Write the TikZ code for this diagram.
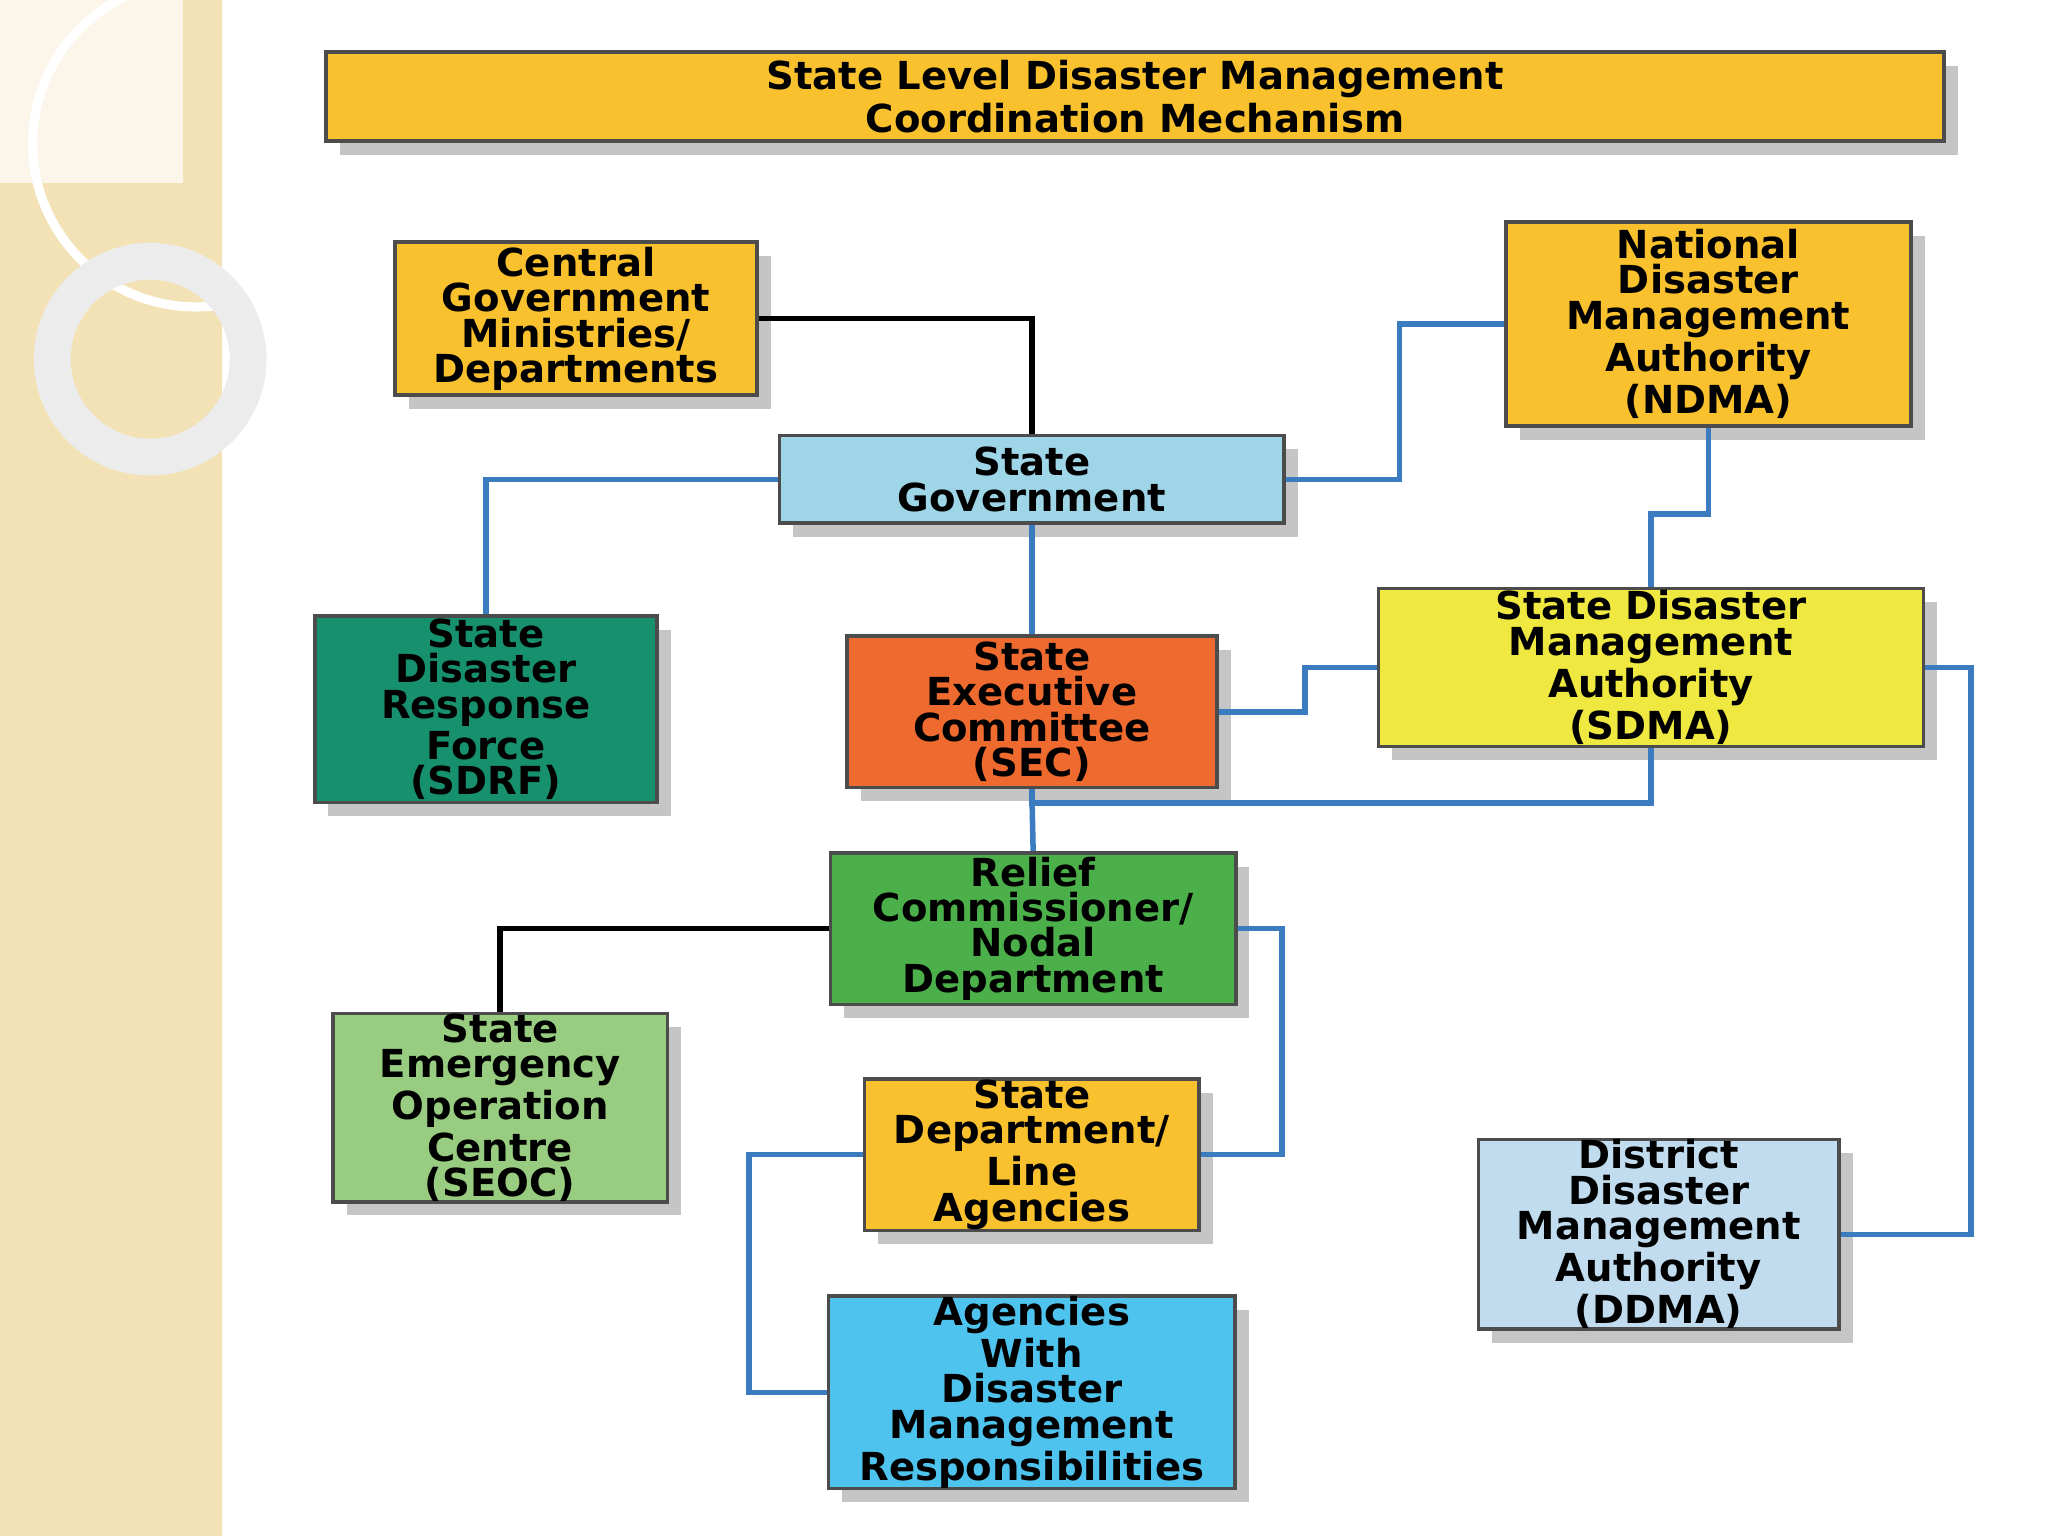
\documentclass[tikz,border=0pt]{standalone}
\usepackage{fontspec}
\setmainfont{DejaVu Sans}
\usetikzlibrary{shadows}
\definecolor{gold}{HTML}{F9C12E}
\definecolor{govblue}{HTML}{9ED6E8}
\definecolor{teal}{HTML}{17906E}
\definecolor{secorange}{HTML}{EE6A2E}
\definecolor{sdmayellow}{HTML}{EEE840}
\definecolor{reliefgreen}{HTML}{4CB04A}
\definecolor{seocgreen}{HTML}{98CC80}
\definecolor{skyblue}{HTML}{4EC3EE}
\definecolor{paleblue}{HTML}{C0DCEE}
\definecolor{linkblue}{HTML}{3B7BC0}
\definecolor{beige}{HTML}{F3E2B6}
\tikzset{
  box/.style={draw=black!70,thick,align=center,inner sep=0pt,
    font=\bfseries\fontsize{8.4}{7.7}\selectfont,
    drop shadow={shadow xshift=3pt,shadow yshift=-3pt,fill=black!45}},
  link/.style={draw=linkblue,line width=1.2pt},
  blk/.style={draw=black,line width=1.2pt}
}
\begin{document}
\begin{tikzpicture}[x=0.01cm,y=-0.01cm]
\useasboundingbox (0,0) rectangle (1568,1176);
% side panel
\fill[beige] (0,0) rectangle (170,1176);
\fill[white!70!beige] (0,0) rectangle (140,140);
\draw[white,line width=2pt] (150,110) circle (125);
\draw[white!85!gray,line width=8pt] (115,275) circle (75);
% boxes
\node[box,fill=gold,minimum width=12.38cm,minimum height=0.68cm] (title) at (869,74)
  {State Level Disaster Management\\Coordination Mechanism};
\node[box,fill=gold,minimum width=2.77cm,minimum height=1.17cm] (cgm) at (441,244)
  {Central\\Government\\Ministries/\\Departments};
\node[box,fill=gold,minimum width=3.10cm,minimum height=1.56cm] (ndma) at (1308,248)
  {National\\Disaster\\Management\\Authority\\(NDMA)};
\node[box,fill=govblue,minimum width=3.86cm,minimum height=0.67cm] (sg) at (790,367)
  {State\\Government};
\node[box,fill=teal,minimum width=2.62cm,minimum height=1.43cm] (sdrf) at (372,543)
  {State\\Disaster\\Response\\Force\\(SDRF)};
\node[box,fill=secorange,minimum width=2.83cm,minimum height=1.16cm] (sec) at (790,545)
  {State\\Executive\\Committee\\(SEC)};
\node[box,fill=sdmayellow,minimum width=4.17cm,minimum height=1.21cm] (sdma) at (1264,511)
  {State Disaster\\Management\\Authority\\(SDMA)};
\node[box,fill=reliefgreen,minimum width=3.10cm,minimum height=1.16cm] (relief) at (791,711)
  {Relief\\Commissioner/\\Nodal\\Department};
\node[box,fill=seocgreen,minimum width=2.56cm,minimum height=1.44cm] (seoc) at (383,848)
  {State\\Emergency\\Operation\\Centre\\(SEOC)};
\node[box,fill=gold,minimum width=2.56cm,minimum height=1.16cm] (sdept) at (790,884)
  {State\\Department/\\Line\\Agencies};
\node[box,fill=skyblue,minimum width=3.11cm,minimum height=1.44cm] (agency) at (790,1066)
  {Agencies\\With\\Disaster\\Management\\Responsibilities};
\node[box,fill=paleblue,minimum width=2.76cm,minimum height=1.44cm] (ddma) at (1270,945)
  {District\\Disaster\\Management\\Authority\\(DDMA)};
% connectors
\draw[blk] (cgm.east) -| (sg.north);
\draw[link] (ndma.west) -- ++(-80,0) |- (sg.east);
\draw[link] (sg.west) -| (sdrf.north);
\draw[link] (sg.south) -- (sec.north);
\draw[link] (ndma.south) -- ++(0,66) -| (sdma.north);
\draw[link] (sec.east) -- ++(66,0) |- (sdma.west);
\draw[link] (sdma.south) -- ++(0,42) -| (sec.south);
\draw[link] (sec.south) -- (relief.north);
\draw[link] (sdma.east) -- ++(35,0) |- (ddma.east);
\draw[blk] (relief.west) -| (seoc.north);
\draw[link] (relief.east) -- ++(34,0) |- (sdept.east);
\draw[link] (sdept.west) -- ++(-87,0) |- (agency.west);
\end{tikzpicture}
\end{document}
